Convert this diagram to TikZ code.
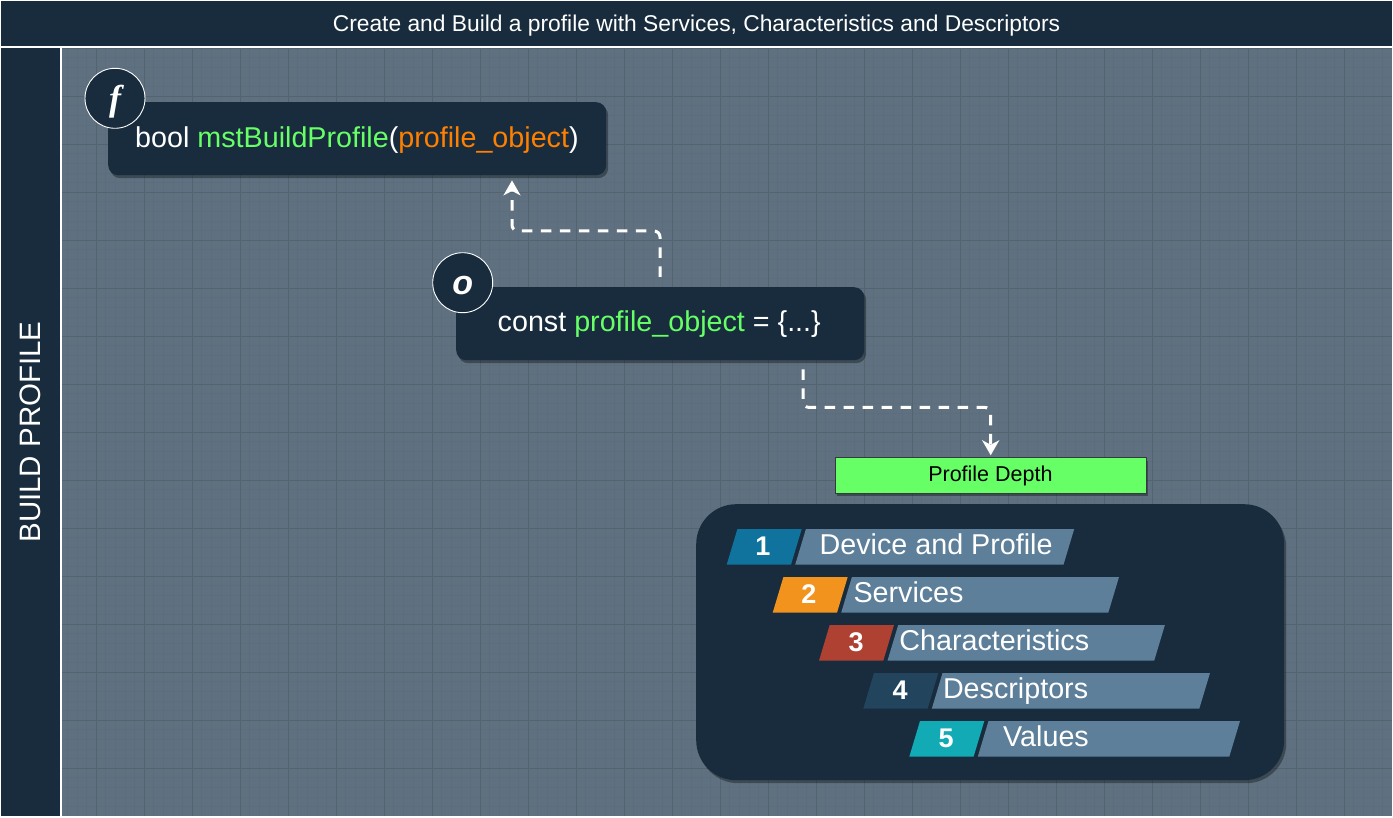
\documentclass[tikz,border=0pt]{standalone}
\usepackage{fontspec}
\setmainfont{Liberation Sans}
\newfontfamily\serifbi{Liberation Serif}
\usetikzlibrary{arrows.meta,calc,shadows}
\definecolor{navy}{HTML}{182C3D}
\definecolor{bggray}{HTML}{5F7180}
\definecolor{gridmajor}{HTML}{53646F}
\definecolor{gridminor}{HTML}{5C6E7C}
\definecolor{codegreen}{HTML}{66FF66}
\definecolor{codeorange}{HTML}{FF8000}
\definecolor{labfill}{HTML}{5D7F99}
\definecolor{cA}{HTML}{10739E}
\definecolor{cB}{HTML}{F2931E}
\definecolor{cC}{HTML}{AE4132}
\definecolor{cD}{HTML}{23445D}
\definecolor{cE}{HTML}{12AAB5}
\definecolor{pdstroke}{HTML}{36393D}
\tikzset{
  codebox/.style={fill=navy, rounded corners=10pt, inner sep=0pt, minimum width=#1, minimum height=73pt, anchor=north west,
    drop shadow={shadow xshift=2pt, shadow yshift=-3pt, opacity=0.35, fill=black}},
  badge/.style={circle, draw=white, line width=0.9pt, fill=navy, minimum size=60pt, inner sep=0pt, text=white,
    text height=24pt, text depth=0pt},
  codetext/.style={anchor=base west, inner sep=0pt, text=white, font=\fontsize{28.7}{34}\selectfont},
  conn/.style={draw=white, line width=3pt, dash pattern=on 10.5pt off 8.5pt, rounded corners=6pt,
    -{Stealth[length=15pt, width=17pt, inset=4.5pt]}, shorten >=0pt},
  rowtext/.style={anchor=base west, inner sep=0pt, text=white, font=\fontsize{28.7}{34}\selectfont},
  digit/.style={anchor=base, inner sep=0pt, text=white, font=\bfseries\fontsize{27}{31}\selectfont},
}
\begin{document}
\begin{tikzpicture}[x=1pt,y=-1pt]
\useasboundingbox (0,0) rectangle (1393,818);
\fill[white] (0,0) rectangle (1393,818);
% pool
\fill[navy] (0.5,0.5) rectangle (1392.5,816.5);
\fill[bggray] (61,48) rectangle (1391.5,815.5);
\draw[gridminor, line width=0.5pt, step=9.6pt] (61,48) grid (1391.5,815.5);
\draw[gridmajor, line width=0.8pt, step=48pt] (61,48) grid (1391.5,815.5);
\draw[white, line width=1.2pt] (0.6,0.6) rectangle (1392.4,816.4);
\draw[white, line width=2pt] (0,47.5) -- (1393,47.5);
\draw[white, line width=2pt] (60.5,47.5) -- (60.5,816.5);
% title and lane label
\node[text=white, anchor=base, inner sep=0pt, font=\fontsize{22.8}{27}\selectfont] (title) at (696.5,32)
  {Create and Build a profile with Services, Characteristics and Descriptors};
\node[text=white, rotate=90, inner sep=0pt, font=\fontsize{29.5}{34}\selectfont] (lane) at (30,432) {BUILD PROFILE};
% function box
\node[codebox=498pt] (fn) at (108,102) {};
\node[codetext] (fntext) at (135,148)
  {bool \textcolor{codegreen}{mstBuildProfile}(\textcolor{codeorange}{profile\_object})};
\node[badge, font=\serifbi\bfseries\itshape\fontsize{36}{40}\selectfont] (fbadge) at (115,98.3) {f};
% object box
\node[codebox=408pt] (obj) at (456,287) {};
\node[codetext] (objtext) at (497.5,331.7)
  {const \textcolor{codegreen}{profile\_object} = \{...\}};
\node[badge, font=\bfseries\itshape\fontsize{34}{38}\selectfont] (obadge) at (462.7,282.7) {o};
% profile depth
\node[fill=codegreen, draw=pdstroke, line width=1pt, minimum width=311pt, minimum height=35.4pt, inner sep=0pt,
  anchor=north west, drop shadow={shadow xshift=2pt, shadow yshift=-3pt, opacity=0.35, fill=black}] (pd) at (834.7,457.3) {};
\node[anchor=base, inner sep=0pt, text=black, font=\fontsize{21.5}{25}\selectfont] (pdtext) at (990.4,481.5) {Profile Depth};
% container
\node[fill=navy, rounded corners=40pt, minimum width=588pt, minimum height=276pt, inner sep=0pt, anchor=north west,
  drop shadow={shadow xshift=2pt, shadow yshift=-3pt, opacity=0.35, fill=black}] (cont) at (696,504) {};
% rows
\foreach \i/\y/\a/\r/\tx/\nc/\col/\txt in {
  1/529/726.7/1063.5/819.5/763/cA/Device and Profile,
  2/577/772.7/1108.3/853.3/809/cB/Services,
  3/625/819.0/1154.2/899.2/856/cC/Characteristics,
  4/673/863.3/1199.3/942.8/900/cD/Descriptors,
  5/721/909.3/1229.3/1003.0/946/cE/Values}{
  \fill[\col] (\a,\y+35.7) -- (\a+10.7,\y) -- (\a+75,\y) -- (\a+64.3,\y+35.7) -- cycle;
  \fill[labfill] (\a+68.5,\y+35.7) -- (\a+79.2,\y) -- (\r+10.7,\y) -- (\r,\y+35.7) -- cycle;
  \node[digit] (num\i) at (\nc,\y+26) {\i};
  \node[rowtext] (lab\i) at (\tx,\y+25) {\txt};
}
% connectors
\coordinate (s1) at ($(obj.north west)+(204,-10)$);
\coordinate (e1) at ($(fn.south west)+(404,5)$);
\draw[conn] (s1) -- ++(0,-46) -| (e1);
\coordinate (s2) at ($(obj.south west)+(347,9)$);
\coordinate (e2) at ($(pd.north)+(0,-2)$);
\draw[conn] (s2) -- ++(0,38) -| (e2);
\end{tikzpicture}
\end{document}
